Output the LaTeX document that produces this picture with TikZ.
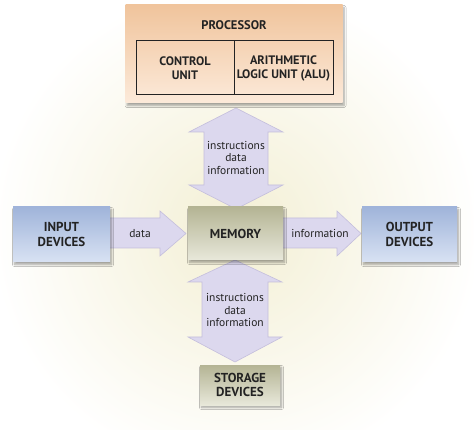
\documentclass[tikz,border=0pt]{standalone}
\usepackage{fontspec}
\setmainfont{PT Sans}
\usetikzlibrary{shadows.blur}
\definecolor{txt}{HTML}{232323}
\definecolor{arrowfill}{HTML}{DCD8EE}
\definecolor{arrowline}{HTML}{C4BEDC}
\tikzset{
  box/.style={minimum width=#1, inner sep=0pt, align=center, font=\bfseries\fontsize{13}{14.5}\selectfont, text=txt,
    blur shadow={shadow xshift=1.5pt, shadow yshift=-2.5pt, shadow blur steps=6, shadow opacity=35}},
  bluebox/.style={box=#1,
    top color={rgb,255:red,160;green,180;blue,218}, bottom color={rgb,255:red,216;green,226;blue,243}},
  greenbox/.style={box=#1, top color={rgb,255:red,180;green,180;blue,148}, bottom color={rgb,255:red,232;green,232;blue,218}},
  blockarrow/.style={fill=arrowfill, draw=arrowline, line width=0.6pt, line join=miter},
  albl/.style={font=\fontsize{11.5}{12.5}\selectfont, text=txt, align=center, inner sep=0pt},
  cell/.style={draw=txt, line width=1pt, minimum height=54, inner sep=0pt, align=center,
    font=\bfseries\fontsize{12.3}{14}\selectfont, text=txt},
}
\begin{document}
\begin{tikzpicture}[x=1pt,y=-1pt]
\useasboundingbox (0,0) rectangle (474,430);
% background glow
\fill[white] (0,0) rectangle (474,430);
\shade[inner color={rgb,255:red,243;green,239;blue,212}, outer color=white] (236,230) circle (245);
% block arrows (behind boxes)
\draw[blockarrow] (236,108) -- (283,132) -- (268,132) -- (268,185) -- (283,185) -- (236,209)
  -- (189,185) -- (204,185) -- (204,132) -- (189,132) -- cycle;
\draw[blockarrow] (235,260) -- (282,282) -- (268,282) -- (268,337) -- (282,337) -- (235,362)
  -- (188,337) -- (202,337) -- (202,282) -- (188,282) -- cycle;
\draw[blockarrow] (105,218) -- (160,218) -- (160,211) -- (186,233.5) -- (160,256) -- (160,248) -- (105,248) -- cycle;
\draw[blockarrow] (280,218) -- (337,218) -- (337,211) -- (361,233.5) -- (337,256) -- (337,248) -- (280,248) -- cycle;
\node[albl] (lup) at (236,158) {instructions\\data\\information};
\node[albl] (ldown) at (235,310) {instructions\\data\\information};
\node[albl] (ldata) at (140,233.5) {data};
\node[albl] (linfo) at (320,233.5) {information};
% processor
\node[box=217, minimum height=98, top color={rgb,255:red,240;green,196;blue,156}, bottom color={rgb,255:red,252;green,234;blue,218}] (proc) at (234,54) {};
\node[font=\bfseries\fontsize{12.5}{13}\selectfont, text=txt, inner sep=0pt] (ptitle) at (234,25) {PROCESSOR};
\node[cell, minimum width=98] (cu) at (185,68) {CONTROL\\UNIT};
\node[cell, minimum width=99] (alu) at (283.5,68) {ARITHMETIC\\LOGIC UNIT (ALU)};
% boxes
\node[bluebox=97, minimum height=55] (in) at (61.5,234.5) {INPUT\\DEVICES};
\node[bluebox=95, minimum height=55] (out) at (409.5,234.5) {OUTPUT\\DEVICES};
\node[greenbox=95, minimum height=53] (mem) at (235.5,233.5) {MEMORY};
\node[greenbox=80, minimum height=40] (stor) at (240,385) {STORAGE\\DEVICES};
\end{tikzpicture}
\end{document}
